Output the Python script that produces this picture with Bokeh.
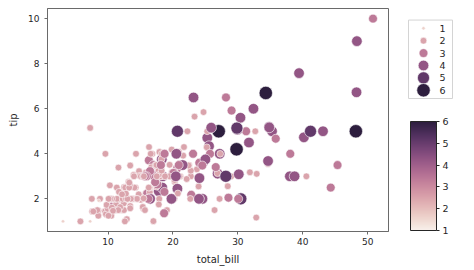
import numpy as np
from bokeh.plotting import figure
from bokeh.models import (ColumnDataSource, LinearColorMapper, ColorBar, FixedTicker,
                          Range1d)
from bokeh.layouts import row
from bokeh.core.properties import value
from bokeh.transform import linear_cmap
from bokeh.embed import file_html
from bokeh.resources import INLINE

# Restaurant tips: bill amount, tip and party size for each table
total_bill = [16.99, 10.34, 21.01, 23.68, 24.59, 25.29, 8.77, 26.88, 15.04, 14.78,
              10.27, 35.26, 15.42, 18.43, 14.83, 21.58, 10.33, 16.29, 16.97, 20.65,
              17.92, 20.29, 15.77, 39.42, 19.82, 17.81, 13.37, 12.69, 21.70, 19.65,
              9.55, 18.35, 15.06, 20.69, 17.78, 24.06, 16.31, 16.93, 18.69, 31.27,
              16.04, 17.46, 13.94, 9.68, 30.40, 18.29, 22.23, 32.40, 28.55, 18.04,
              12.54, 10.29, 34.81, 9.94, 25.56, 19.49, 38.01, 26.41, 11.24, 48.27,
              20.29, 13.81, 11.02, 18.29, 17.59, 20.08, 16.45, 3.07, 20.23, 15.01,
              12.02, 17.07, 26.86, 25.28, 14.73, 10.51, 17.92, 27.20, 22.76, 17.29,
              19.44, 16.66, 10.07, 32.68, 15.98, 34.83, 13.03, 18.28, 24.71, 21.16,
              28.97, 22.49, 5.75, 16.32, 22.75, 40.17, 27.28, 12.03, 21.01, 12.46,
              11.35, 15.38, 44.30, 22.42, 20.92, 15.36, 20.49, 25.21, 18.24, 14.31,
              14.00, 7.25, 38.07, 23.95, 25.71, 17.31, 29.93, 10.65, 12.43, 24.08,
              11.69, 13.42, 14.26, 15.95, 12.48, 29.80, 8.52, 14.52, 11.38, 22.82,
              19.08, 20.27, 11.17, 12.26, 18.26, 8.51, 10.33, 14.15, 16.00, 13.16,
              17.47, 34.30, 41.19, 27.05, 16.43, 8.35, 18.64, 11.87, 9.78, 7.51,
              14.07, 13.13, 17.26, 24.55, 19.77, 29.85, 48.17, 25.00, 13.39, 16.49,
              21.50, 12.66, 16.21, 13.81, 17.51, 24.52, 20.76, 31.71, 10.59, 10.63,
              50.81, 15.81, 7.25, 31.85, 16.82, 32.90, 17.89, 14.48, 9.60, 34.63,
              34.65, 23.33, 45.35, 23.17, 40.55, 20.69, 20.90, 30.46, 18.15, 23.10,
              15.69, 19.81, 28.44, 15.48, 16.58, 7.56, 10.34, 43.11, 13.00, 13.51,
              18.71, 12.74, 13.00, 16.40, 20.53, 16.47, 26.59, 38.73, 24.27, 12.76,
              30.06, 25.89, 48.33, 13.27, 28.17, 12.90, 28.15, 11.59, 7.74, 30.14,
              12.16, 13.42, 8.58, 15.98, 13.42, 16.27, 10.09, 20.45, 13.28, 22.12,
              24.01, 15.69, 11.61, 10.77, 15.53, 10.07, 12.60, 32.83, 35.83, 29.03,
              27.18, 22.67, 17.82, 18.78]
tip = [1.01, 1.66, 3.50, 3.31, 3.61, 4.71, 2.00, 3.12, 1.96, 3.23,
       1.71, 5.00, 1.57, 3.00, 3.02, 3.92, 1.67, 3.71, 3.50, 3.35,
       4.08, 2.75, 2.23, 7.58, 3.18, 2.34, 2.00, 2.00, 4.30, 3.00,
       1.45, 2.50, 3.00, 2.45, 3.27, 3.60, 2.00, 3.07, 2.31, 5.00,
       2.24, 2.54, 3.06, 1.32, 5.60, 3.00, 5.00, 6.00, 2.05, 3.00,
       2.50, 2.60, 5.20, 1.56, 4.34, 3.51, 3.00, 1.50, 1.76, 6.73,
       3.21, 2.00, 1.98, 3.76, 2.64, 3.15, 2.47, 1.00, 2.01, 2.09,
       1.97, 3.00, 3.14, 5.00, 2.20, 1.25, 3.08, 4.00, 3.00, 2.71,
       3.00, 3.40, 1.83, 5.00, 2.03, 5.17, 2.00, 4.00, 5.85, 3.00,
       3.00, 3.50, 1.00, 4.30, 3.25, 4.73, 4.00, 1.50, 3.00, 1.50,
       2.50, 3.00, 2.50, 3.48, 4.08, 1.64, 4.06, 4.29, 3.76, 4.00,
       3.00, 1.00, 4.00, 2.55, 4.00, 3.50, 5.07, 1.50, 1.80, 2.92,
       2.31, 1.68, 2.50, 2.00, 2.52, 4.20, 1.48, 2.00, 2.00, 2.18,
       1.50, 2.83, 1.50, 2.00, 3.25, 1.25, 2.00, 2.00, 2.00, 2.75,
       3.50, 6.70, 5.00, 5.00, 2.30, 1.50, 1.36, 1.63, 1.73, 2.00,
       2.50, 2.00, 2.74, 2.00, 2.00, 5.14, 5.00, 3.75, 2.61, 2.00,
       3.50, 2.50, 2.00, 2.00, 3.00, 3.48, 2.24, 4.50, 1.61, 2.00,
       10.00, 3.16, 5.15, 3.18, 4.00, 3.11, 2.00, 2.00, 4.00, 3.55,
       3.68, 5.65, 3.50, 6.50, 3.00, 5.00, 3.50, 2.00, 3.50, 4.00,
       1.50, 4.19, 2.56, 2.02, 4.00, 1.44, 2.00, 5.00, 2.00, 2.00,
       4.00, 2.01, 2.00, 2.50, 4.00, 3.23, 3.41, 3.00, 2.03, 2.23,
       2.00, 5.16, 9.00, 2.50, 6.50, 1.10, 3.00, 1.50, 1.44, 3.09,
       2.20, 3.48, 1.92, 3.00, 1.58, 2.50, 2.00, 3.00, 2.72, 2.88,
       2.00, 3.00, 3.39, 1.47, 3.00, 1.25, 1.00, 1.17, 4.67, 5.92,
       2.00, 2.00, 1.75, 3.00]
party_size = [2, 3, 3, 2, 4, 4, 2, 4, 2, 2,
              2, 4, 2, 4, 2, 2, 3, 3, 3, 3,
              2, 2, 2, 4, 2, 4, 2, 2, 2, 2,
              2, 4, 2, 4, 2, 3, 3, 3, 3, 3,
              3, 2, 2, 2, 4, 2, 2, 4, 3, 2,
              2, 2, 4, 2, 4, 2, 4, 2, 2, 4,
              2, 2, 2, 4, 3, 3, 2, 1, 2, 2,
              2, 3, 2, 2, 2, 2, 2, 4, 2, 2,
              2, 2, 1, 2, 2, 4, 2, 2, 2, 2,
              2, 2, 2, 2, 2, 4, 2, 2, 2, 2,
              2, 2, 3, 2, 2, 2, 2, 2, 2, 2,
              2, 1, 3, 2, 3, 2, 4, 2, 2, 4,
              2, 2, 2, 2, 2, 6, 2, 2, 2, 3,
              2, 2, 2, 2, 2, 2, 2, 2, 2, 2,
              2, 6, 5, 6, 2, 2, 3, 2, 2, 2,
              2, 2, 3, 4, 4, 5, 6, 4, 2, 4,
              4, 2, 3, 2, 2, 3, 2, 4, 2, 2,
              3, 2, 2, 2, 2, 2, 2, 2, 2, 2,
              4, 2, 3, 4, 2, 5, 3, 5, 3, 3,
              2, 2, 2, 2, 2, 2, 2, 4, 2, 2,
              3, 2, 2, 2, 4, 3, 3, 4, 2, 2,
              3, 4, 4, 2, 3, 2, 5, 2, 2, 4,
              2, 2, 1, 3, 2, 2, 2, 4, 2, 2,
              4, 3, 2, 2, 2, 2, 2, 2, 3, 3,
              2, 2, 2, 2]
size_levels = [1, 2, 3, 4, 5, 6]
tick_x = [10, 20, 30, 40, 50]
tick_y = [2, 4, 6, 8, 10]

TEXT = "#262626"
SPINE = "#6a6a6a"
FONT = "DejaVu Sans"


def cubehelix(x, start=0.0, rot=0.4, gamma=1.0, hue=0.8):
    """Colours along a cubehelix curve for lightness values x."""
    x = np.asarray(x, dtype=float)
    xg = x ** gamma
    a = hue * xg * (1 - xg) / 2
    phi = 2 * np.pi * (start / 3 + rot * x)
    r = xg + a * (-0.14861 * np.cos(phi) + 1.78277 * np.sin(phi))
    g = xg + a * (-0.29227 * np.cos(phi) - 0.90649 * np.sin(phi))
    b = xg + a * (1.97294 * np.cos(phi))
    rgb = np.clip(np.stack([r, g, b], axis=-1), 0, 1)
    return ["#%02x%02x%02x" % tuple(int(round(c * 255)) for c in v) for v in rgb]


point_palette = cubehelix(np.linspace(0.85, 0.15, 256))
bar_palette = cubehelix(np.linspace(0.95, 0.15, 256))

lo, hi = min(size_levels), max(size_levels)
AREA_MIN, AREA_MAX = 12.0, 180.0


def diameter(s):
    s = np.asarray(s, dtype=float)
    return np.sqrt(AREA_MIN + (s - lo) / (hi - lo) * (AREA_MAX - AREA_MIN))


def padded(vals, frac=0.05):
    a, b = min(vals), max(vals)
    m = (b - a) * frac
    return Range1d(a - m, b + m)


src = ColumnDataSource(dict(x=total_bill, y=tip, size=party_size,
                            d=diameter(party_size)))
hue = linear_cmap("size", point_palette, lo, hi)

p = figure(width=398, height=270, x_range=padded(total_bill), y_range=padded(tip),
           output_backend="svg", toolbar_location=None,
           min_border_left=47, min_border_right=10, min_border_top=8,
           min_border_bottom=39)
p.scatter("x", "y", size="d", source=src, fill_color=hue,
          line_color="white", line_width=0.6)

p.grid.visible = False
p.outline_line_color = SPINE
p.outline_line_width = 1
p.background_fill_color = "white"
p.border_fill_color = "white"

p.xaxis.ticker = FixedTicker(ticks=tick_x)
p.yaxis.ticker = FixedTicker(ticks=tick_y)
p.xaxis.axis_label = "total_bill"
p.yaxis.axis_label = "tip"
for ax in (p.xaxis, p.yaxis):
    ax.axis_line_color = SPINE
    ax.major_tick_line_color = SPINE
    ax.major_tick_out = 3
    ax.major_tick_in = 0
    ax.minor_tick_line_color = None
    ax.major_label_text_font = FONT
    ax.major_label_text_font_size = "9px"
    ax.major_label_text_color = TEXT
    ax.axis_label_text_font = FONT
    ax.axis_label_text_font_size = "10px"
    ax.axis_label_text_font_style = "normal"
    ax.axis_label_text_color = TEXT
    ax.axis_label_standoff = 6
p.xaxis.major_label_standoff = 3
p.yaxis.major_label_standoff = 5

# Side panel: size legend and colour bar
side = figure(width=76, height=270, x_range=Range1d(0, 76), y_range=Range1d(270, 0),
              output_backend="svg", toolbar_location=None, min_border=0,
              x_axis_type=None, y_axis_type=None)
side.grid.visible = False
side.outline_line_color = None
side.background_fill_color = "white"
side.border_fill_color = "white"

row_gap = 15
first_row = 24
leg_y = [first_row + i * row_gap for i in range(len(size_levels))]
side.quad(left=10, right=54, top=14, bottom=109, fill_color="white",
          line_color="#d4d4d4", line_width=1)
leg_src = ColumnDataSource(dict(x=[25] * len(size_levels), y=leg_y, size=size_levels,
                                d=diameter(size_levels),
                                label=[str(s) for s in size_levels]))
side.scatter("x", "y", size="d", source=leg_src, fill_color=hue,
             line_color="white", line_width=0.6)
side.text(x=41, y="y", text="label", source=leg_src, text_font=value(FONT),
          text_font_size="9.5px", text_baseline="middle", text_color=TEXT)

bar_mapper = LinearColorMapper(palette=bar_palette, low=lo, high=hi)
cbar = ColorBar(color_mapper=bar_mapper, location=(12, 1), width=26, height=109,
                padding=0, margin=0, ticker=FixedTicker(ticks=size_levels),
                major_tick_out=3, major_tick_in=0, major_tick_line_color=TEXT,
                minor_tick_line_color=None,
                bar_line_color=TEXT, bar_line_width=1,
                major_label_text_font=FONT, major_label_text_font_size="9.5px",
                major_label_text_color=TEXT, label_standoff=3,
                background_fill_alpha=0, border_line_color=None)
side.add_layout(cbar)

layout = row(p, side, spacing=0)

open("out.html", "w").write(file_html(layout, INLINE))
